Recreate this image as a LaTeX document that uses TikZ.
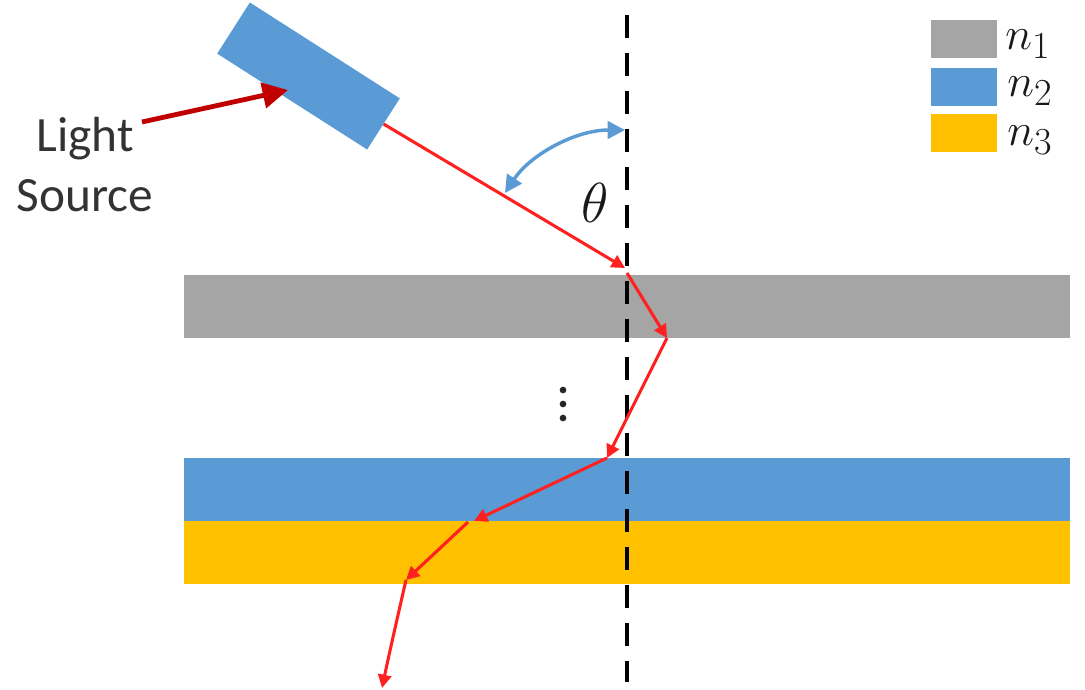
\documentclass[tikz,border=0pt]{standalone}
\usepackage{fontspec}
\usepackage{amsmath}
\setmainfont{Carlito}
\usetikzlibrary{arrows.meta}

\definecolor{layergray}{HTML}{A5A5A5}
\definecolor{layerblue}{HTML}{5B9BD5}
\definecolor{layeryellow}{HTML}{FFC000}
\definecolor{pointerred}{HTML}{C00000}
\definecolor{rayred}{HTML}{FF2020}

\tikzset{
	layer/.style={anchor=north west, inner sep=0pt, minimum width=664pt, minimum height=47pt},
	swatch/.style={anchor=north west, inner sep=0pt, minimum width=49.5pt, minimum height=28.5pt},
	index/.style={anchor=west, inner sep=0pt, text=black!90, scale=1.38, font=\fontsize{24.88}{26}\selectfont},
	dotmark/.style={circle, fill=black!85, inner sep=0pt, minimum size=5pt},
	ray/.style={draw=rayred, line width=2.3pt, -{Triangle[length=10pt, width=10pt]}},
}

\begin{document}
\begin{tikzpicture}[x=0.75pt, y=-0.75pt]
	\useasboundingbox (0,0) rectangle (1085,689);
	
	\node[layer, fill=layergray] (l1) at (184,275) {};
	\node[layer, fill=layerblue] (l2) at (184,458) {};
	\node[layer, fill=layeryellow] (l3) at (184,521) {};
	
	\node[swatch, fill=layergray] (s1) at (931,20) {};
	\node[swatch, fill=layerblue] (s2) at (931,68) {};
	\node[swatch, fill=layeryellow] (s3) at (931,114) {};
	
	\node[index] at (1005,44) {$n_1$};
	\node[index] at (1007,91) {$n_2$};
	\node[index] at (1007,140) {$n_3$};
	
	\node[fill=layerblue, inner sep=0pt, minimum width=133.5pt, minimum height=45.5pt, rotate=-32.6] (source) at (308.5,76) {};
	\node[align=center, inner sep=0pt, text=black!80, font=\fontsize{37}{45}\selectfont] (light) at (85,165) {Light\\Source};
	\node[text=black!90, inner sep=0pt, scale=1.7, font=\fontsize{24.88}{26}\selectfont] (theta) at (595,203) {$\theta$};
	
	\foreach \i/\y in {1/390, 2/404, 3/418} {
		\node[dotmark] (d\i) at (563,\y) {};
	}
	
	\coordinate (n0) at (627,15);
	\coordinate (n1) at (627,682);
	\coordinate (a1) at (142,122);
	\coordinate (a2) at (288,90);
	\coordinate (b1) at (625,130);
	\coordinate (b2) at (505,193);
	\coordinate (r0) at (625,268);
	\coordinate (r1) at (627,273);
	\coordinate (r2) at (667,338);
	\coordinate (r3) at (607,458);
	\coordinate (r4) at (474,521);
	\coordinate (r5) at (468,522);
	\coordinate (r6) at (406,580);
	\coordinate (r7) at (382,688);
	
	\draw[black, line width=3.7pt, dash pattern=on 17pt off 11.5pt] (n0) -- (n1);
	\draw[pointerred, line width=3.6pt, -{Triangle[length=19pt, width=19pt]}] (a1) -- (a2);
	\draw[layerblue, line width=2.6pt, {Triangle[length=13pt, width=13pt]}-{Triangle[length=13pt, width=13pt]}] (b2) .. controls (530,155) and (575,130) .. (b1);
	
	\draw[ray] (source.east) -- (r0);
	\draw[ray] (r1) -- (r2);
	\draw[ray] (r2) -- (r3);
	\draw[ray] (r3) -- (r4);
	\draw[ray] (r5) -- (r6);
	\draw[ray] (r6) .. controls (398,615) and (390,650) .. (r7);
\end{tikzpicture}
\end{document}
